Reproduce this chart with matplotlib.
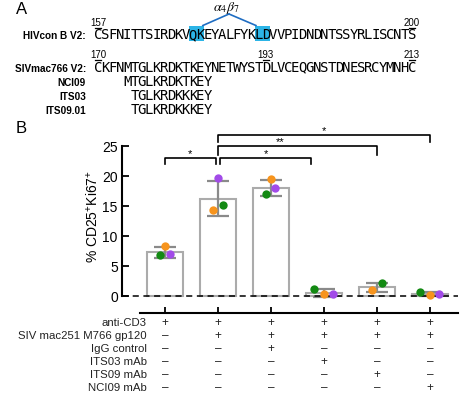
"""
plot.py

Peptide alignment (A) and CD25+Ki67+ bar chart with design table (B).
"""

import numpy as np
import matplotlib
matplotlib.use("Agg")
import matplotlib.pyplot as plt
from matplotlib.patches import Rectangle

plt.rcParams["font.family"] = ["Liberation Sans", "DejaVu Sans"]
plt.rcParams["mathtext.fontset"] = "custom"
plt.rcParams["mathtext.rm"] = "Liberation Sans"
plt.rcParams["mathtext.it"] = "Liberation Sans:italic"


# ==========================================================
# Data
# ==========================================================

# panel A: sequences
seq_labels = ["HIVcon B V2:", "SIVmac766 V2:", "NCI09", "ITS03", "ITS09.01"]
seq_strings = [
    "CSFNITTSIRDKVQKEYALFYKLDVVPIDNDNTSSYRLISCNTS",
    "CKFNMTGLKRDKTKEYNETWYSTDLVCEQGNSTDNESRCYMNHC",
    "MTGLKRDKTKEY",
    "TGLKRDKKKEY",
    "TGLKRDKKKEY",
]
seq_start = [0, 0, 4, 5, 5]            # column of first residue
hiv_numbered = {0: "157", 43: "200"}   # residue index -> number
siv_numbered = {0: "170", 23: "193", 43: "213"}
hiv_motifs = [(13, 2), (22, 2)]        # QK and LD (start, length)

# panel B: bars
conditions = [
    "anti-CD3",
    "SIV mac251 M766 gp120",
    "IgG control",
    "ITS03 mAb",
    "ITS09 mAb",
    "NCI09 mAb",
]
design = [
    [1, 1, 1, 1, 1, 1],
    [0, 1, 1, 1, 1, 1],
    [0, 0, 1, 0, 0, 0],
    [0, 0, 0, 1, 0, 0],
    [0, 0, 0, 0, 1, 0],
    [0, 0, 0, 0, 0, 1],
]
means = [7.3, 16.2, 18.0, 0.5, 1.45, 0.3]
sds = [0.95, 2.9, 1.3, 0.6, 0.8, 0.35]

donor_orange = [8.4, 14.4, 19.5, 0.3, 1.0, 0.15]
donor_green = [6.8, 15.2, 17.0, 1.1, 2.1, 0.65]
donor_purple = [7.0, 19.7, 18.0, 0.4, np.nan, 0.35]

# significance brackets: (left, right, label)
comparisons = [
    (0, 1, "*"),
    (1, 2.75, "*"),
    (1, 4, "**"),
    (1, 5, "*"),
]


# ==========================================================
# Figure + overlay in pixel units
# ==========================================================

W, H = 474, 409
fig = plt.figure(figsize=(W / 100, H / 100), dpi=100)

ov = fig.add_axes([0, 0, 1, 1])
ov.set_xlim(0, W)
ov.set_ylim(H, 0)
ov.axis("off")

ov.text(16, 14, "A", fontsize=12, ha="left", va="baseline")
ov.text(16, 133, "B", fontsize=12, ha="left", va="baseline")


# ==========================================================
# Panel A
# ==========================================================

x0 = 98.0
pitch = 7.3
baselines = [39, 71.5, 86, 100, 114]
cap = 10

for label, seq, start, yb in zip(seq_labels, seq_strings, seq_start, baselines):

    ov.text(
        86, yb, label,
        fontsize=7.2,
        weight="bold",
        ha="right",
        va="baseline"
    )

    for i, ch in enumerate(seq):

        ov.text(
            x0 + (start + i) * pitch, yb, ch,
            fontsize=10,
            family="DejaVu Sans Mono",
            ha="center",
            va="baseline",
            zorder=3
        )

# highlighted motifs
for start, n in hiv_motifs:

    ov.add_patch(
        Rectangle(
            (x0 + (start - 0.5) * pitch, baselines[0] - cap - 3.5),
            n * pitch,
            cap + 5,
            facecolor="#2cb4e6",
            edgecolor="none",
            zorder=2
        )
    )

# residue numbers and overbars
for numbered, yb in [(hiv_numbered, baselines[0]), (siv_numbered, baselines[1])]:

    for idx, num in numbered.items():

        xc = x0 + idx * pitch

        ov.text(xc, yb - cap - 3.5, num, fontsize=7, ha="center", va="baseline")

        ov.plot(
            [xc - 2.8, xc + 2.8],
            [yb - cap - 1.5, yb - cap - 1.5],
            color="black",
            lw=0.9
        )

# alpha4 beta7 label and lines
apex = (229, 14)
qk_right = x0 + (hiv_motifs[0][0] + 1.5) * pitch
ld_left = x0 + (hiv_motifs[1][0] - 0.5) * pitch

ov.text(
    226, 11.5, r"$\alpha_4\beta_7$",
    fontsize=10,
    math_fontfamily="stix",
    ha="center",
    va="baseline"
)

ov.plot([apex[0], qk_right - 1], [apex[1], baselines[0] - cap - 3.5], color="#1f6dc2", lw=1.2)
ov.plot([apex[0], ld_left + 1], [apex[1], baselines[0] - cap - 3.5], color="#1f6dc2", lw=1.2)


# ==========================================================
# Panel B
# ==========================================================

ax = fig.add_axes([
    122 / W,
    (H - 313) / H,
    (458 - 122) / W,
    (313 - 146) / H
])
ax.patch.set_visible(False)

ax.set_xlim(-0.81, 5.53)
ax.set_ylim(-2.83, 25)

x = np.arange(len(means))

ax.bar(
    x,
    means,
    width=0.67,
    color="white",
    edgecolor="#ababab",
    linewidth=1.5,
    zorder=2
)

ax.errorbar(
    x,
    means,
    yerr=sds,
    fmt="none",
    ecolor="#8a8a8a",
    elinewidth=1.6,
    capsize=8,
    capthick=1.6,
    zorder=3
)

ax.plot([-0.81, 5.53], [0, 0], color="black", lw=1.1, ls=(0, (4, 3)), zorder=4)

jitter = {
    "orange": [0, -0.09, 0, 0, -0.09, 0],
    "green": [-0.09, 0.09, -0.1, -0.18, 0.09, -0.19],
    "purple": [0.09, 0, 0.08, 0.17, 0, 0.18],
}
donors = [
    (donor_orange, "#f7941d", jitter["orange"]),
    (donor_green, "#138a13", jitter["green"]),
    (donor_purple, "#a24be8", jitter["purple"]),
]

for values, color, offs in donors:

    ax.plot(
        x + np.array(offs),
        values,
        "o",
        color=color,
        markersize=6,
        markeredgewidth=0,
        zorder=5,
        clip_on=False
    )

# brackets
levels = [(23.0, 22.0), (23.0, 22.0), (25.0, 23.5), (26.8, 25.7)]
star_x = [0.48, 1.9, 2.17, 3.0]
nudge = [(0.0, -0.03), (0.04, 0.0), (0.0, 0.0), (0.0, 0.0)]

for (left, right, text), (top, leg), sx, (dl, dr) in zip(comparisons, levels, star_x, nudge):

    ax.plot(
        [left + dl, left + dl, right + dr, right + dr],
        [leg, top, top, leg],
        color="black",
        lw=1.2,
        clip_on=False
    )

    ax.text(sx, top + 0.15, text, fontsize=8, ha="center", va="baseline")

# axes styling
for side in ["top", "right"]:
    ax.spines[side].set_visible(False)

ax.spines["left"].set_bounds(0, 25)
ax.spines["left"].set_linewidth(1.5)
ax.spines["bottom"].set_bounds(-0.47, 5.53)
ax.spines["bottom"].set_linewidth(1.5)

ax.set_yticks([0, 5, 10, 15, 20, 25])
ax.set_xticks(x)
ax.set_xticklabels([])

ax.tick_params(axis="y", direction="in", length=5, width=1.3, labelsize=10, pad=3)
ax.tick_params(axis="x", direction="in", length=4.5, width=1.3)

ov.text(
    93, 216, r"% CD25$^{+}$Ki67$^{+}$",
    fontsize=10,
    rotation=90,
    ha="center",
    va="center"
)


# ==========================================================
# Design table
# ==========================================================

row_y = [323.3, 336.3, 349.3, 362.3, 375.3, 388.3]
col_x = [165 + 53 * i for i in range(len(means))]

for name, flags, yy in zip(conditions, design, row_y):

    ov.text(147, yy, name, fontsize=8.2, color="#222222", ha="right", va="center")

    for xc, f in zip(col_x, flags):

        ov.text(
            xc, yy, "+" if f else "\u2013",
            fontsize=8.5,
            color="#222222",
            ha="center",
            va="center"
        )


fig.savefig("out.png", dpi=100)
plt.close(fig)
